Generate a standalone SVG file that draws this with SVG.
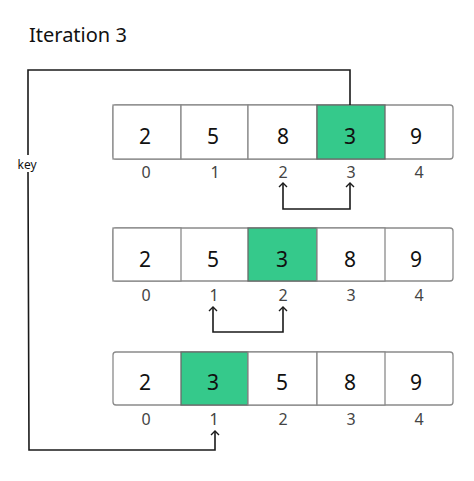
<svg xmlns="http://www.w3.org/2000/svg" width="474" height="481" viewBox="0 0 474 481">
<defs>
<style>
.cell{fill:#fff;stroke:#8a8a8a;stroke-width:1.3}
.key{fill:#35c98b;stroke:#6a6a6a;stroke-width:1.3}
.val{font-family:"Noto Sans","Open Sans",sans-serif;font-size:21px;fill:#111;text-anchor:middle;dominant-baseline:central}
.idx{font-family:"Noto Sans","Open Sans",sans-serif;font-size:16px;fill:#444;text-anchor:middle;dominant-baseline:central}
.ln{fill:none;stroke:#1a1a1a;stroke-width:1.6}
</style>
<marker id="ah" viewBox="0 0 10 10" refX="9" refY="5" markerWidth="10" markerHeight="10" markerUnits="userSpaceOnUse" orient="auto-start-reverse">
<path d="M5,1 L9,5 L5,9" fill="none" stroke="#1a1a1a" stroke-width="1.4"/>
</marker>
</defs>
<rect width="474" height="481" fill="#fff"/>
<text x="29" y="42" font-family="Noto Sans, Open Sans, sans-serif" font-size="20" fill="#111">Iteration 3</text>

<g id="row1">
<rect class="cell" x="113" y="105" width="340" height="54" rx="3"/>
<rect class="cell" x="113" y="105" width="68" height="54"/>
<rect class="cell" x="181" y="105" width="67" height="54"/>
<rect class="cell" x="248" y="105" width="69" height="54"/>
<rect class="key" x="317" y="105" width="68" height="54"/>
<text class="val" x="145" y="136">2</text>
<text class="val" x="213" y="136">5</text>
<text class="val" x="283" y="136">8</text>
<text class="val" x="350" y="136">3</text>
<text class="val" x="416" y="136">9</text>
<text class="idx" x="146" y="172">0</text>
<text class="idx" x="215" y="172">1</text>
<text class="idx" x="283" y="172">2</text>
<text class="idx" x="351" y="172">3</text>
<text class="idx" x="419" y="172">4</text>
</g>

<g id="row2">
<rect class="cell" x="113" y="228" width="340" height="53" rx="3"/>
<rect class="cell" x="113" y="228" width="68" height="53"/>
<rect class="key" x="248" y="228" width="69" height="53"/>
<rect class="cell" x="317" y="228" width="68" height="53"/>
<text class="val" x="145" y="259">2</text>
<text class="val" x="213" y="259">5</text>
<text class="val" x="282" y="259">3</text>
<text class="val" x="350" y="259">8</text>
<text class="val" x="416" y="259">9</text>
<text class="idx" x="146" y="295">0</text>
<text class="idx" x="214" y="295">1</text>
<text class="idx" x="283" y="295">2</text>
<text class="idx" x="351" y="295">3</text>
<text class="idx" x="419" y="295">4</text>
</g>

<g id="row3">
<rect class="cell" x="113" y="352" width="340" height="53" rx="3"/>
<rect class="key" x="181" y="352" width="67" height="53"/>
<rect class="cell" x="248" y="352" width="69" height="53"/>
<rect class="cell" x="317" y="352" width="68" height="53"/>
<text class="val" x="145" y="382">2</text>
<text class="val" x="213" y="382">3</text>
<text class="val" x="282" y="382">5</text>
<text class="val" x="350" y="382">8</text>
<text class="val" x="416" y="382">9</text>
<text class="idx" x="146" y="419">0</text>
<text class="idx" x="214" y="419">1</text>
<text class="idx" x="283" y="419">2</text>
<text class="idx" x="351" y="419">3</text>
<text class="idx" x="419" y="419">4</text>
</g>

<g id="keylabel">
<text x="27" y="164" font-family="Noto Sans, Open Sans, sans-serif" font-size="12" fill="#111" text-anchor="middle" dominant-baseline="central">key</text>
</g>

<g id="connectors">
<path class="ln" d="M28,155 L28,70 L350,70 L350,105"/>
<path class="ln" d="M28,172 L29,450 L215,450 L215,431" marker-end="url(#ah)"/>
<path class="ln" d="M283,183 L283,209 L350,209 L350,183" marker-start="url(#ah)" marker-end="url(#ah)"/>
<path class="ln" d="M213,307 L213,332 L283,332 L283,307" marker-start="url(#ah)" marker-end="url(#ah)"/>
</g>
</svg>
